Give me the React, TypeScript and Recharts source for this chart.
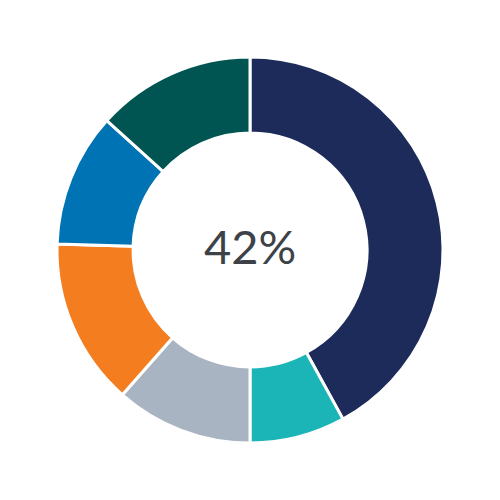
import { PieChart, Pie, Cell } from "recharts";

const segments = ["Navy", "Teal", "Gray", "Orange", "Blue", "Dark Teal"];
const shares = [42, 8, 11.5, 14, 11.2, 13.3];
const colors = ["#1C2B59", "#1BB5B7", "#A9B4C3", "#F47D20", "#0073B4", "#005552"];
const centerLabel = "42%";

const data = segments.map((name, i) => ({ name, value: shares[i] }));

export default function App() {
  return (
    <div style={{ position: "absolute", left: 0, top: 0, width: 500, height: 500, background: "#fff" }}>
      <PieChart width={500} height={500} margin={{ top: 0, right: 0, bottom: 0, left: 0 }}>
        <Pie
          data={data}
          dataKey="value"
          nameKey="name"
          cx={250}
          cy={250}
          innerRadius={117}
          outerRadius={193}
          startAngle={90}
          endAngle={-270}
          stroke="#fff"
          strokeWidth={3}
          isAnimationActive={false}
        >
          {data.map((d, i) => (
            <Cell key={d.name} fill={colors[i]} />
          ))}
        </Pie>
        <text
          x={250}
          y={264}
          textAnchor="middle"
          fontFamily="Lato, sans-serif"
          fontSize={47}
          fill="#3D4248"
        >
          {centerLabel}
        </text>
      </PieChart>
    </div>
  );
}
